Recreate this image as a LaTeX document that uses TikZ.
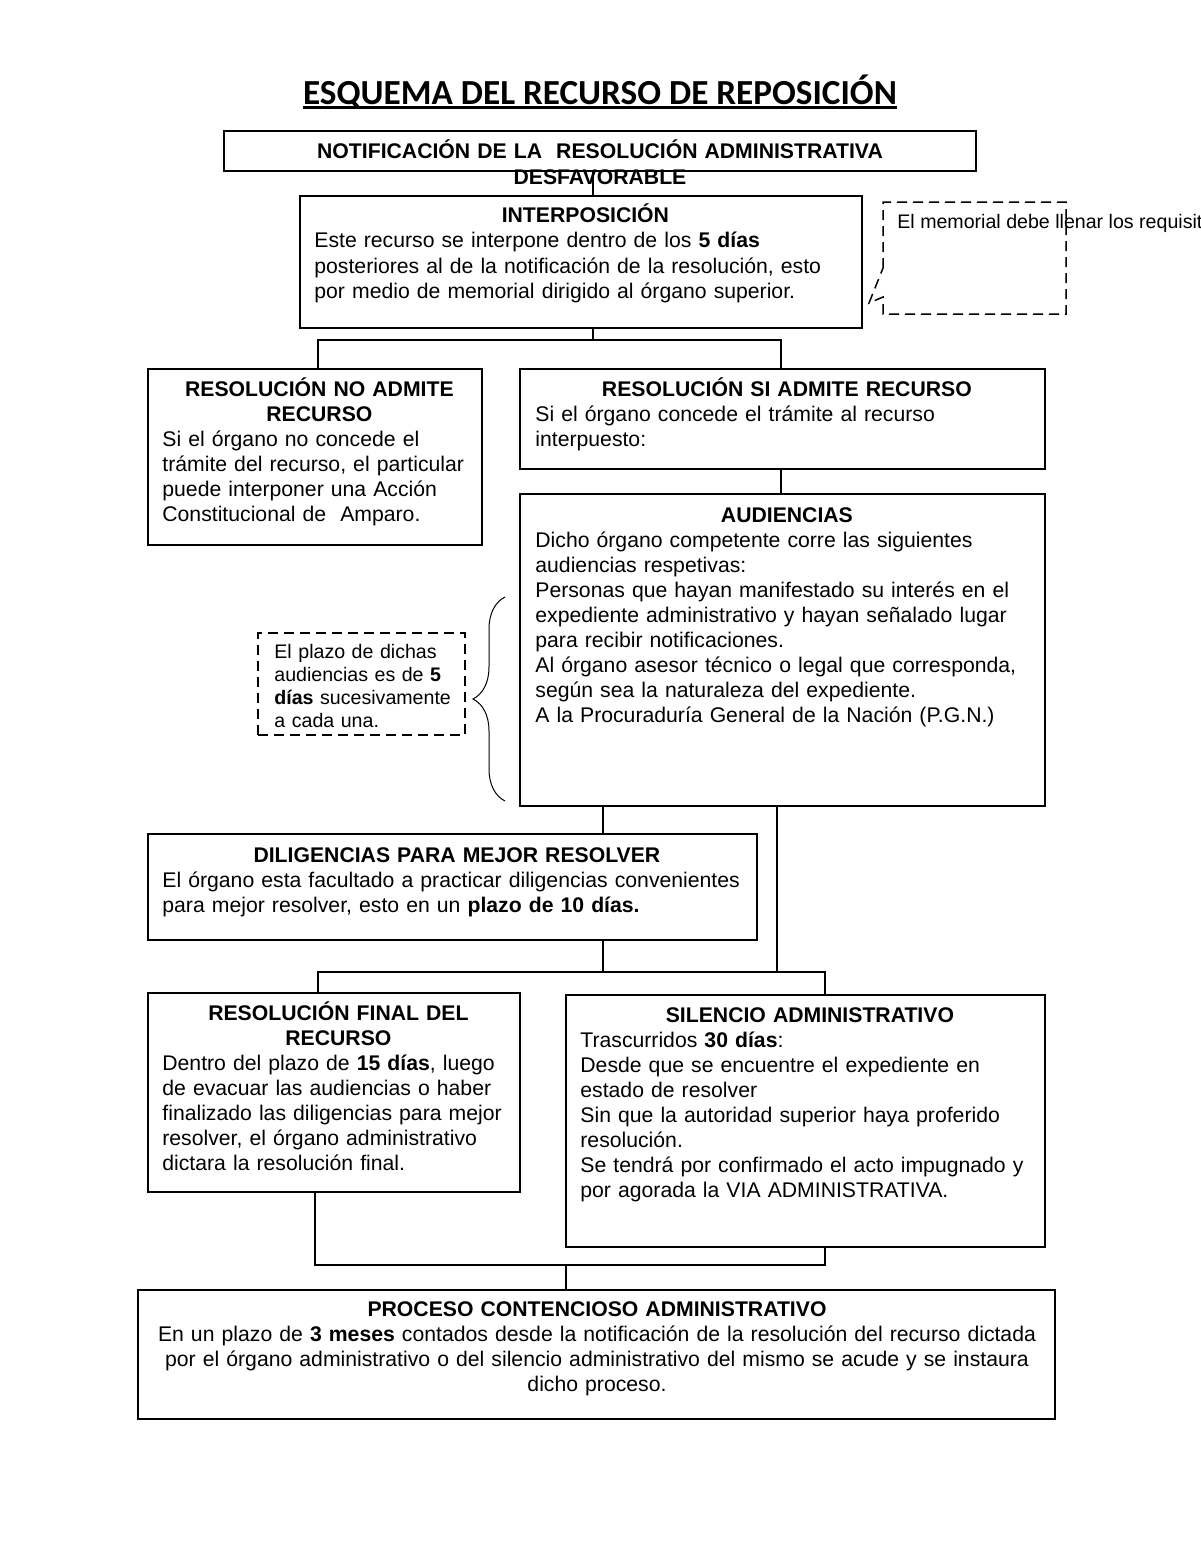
\documentclass[tikz,border=0pt]{standalone}
\usepackage{fontspec}
\setmainfont{Liberation Sans}
\newfontfamily\calibri{Carlito}
\usetikzlibrary{fit,decorations.pathreplacing}
\newcommand{\titulo}[1]{{\centering\bfseries #1\par}}

\tikzset{
  caja/.style={draw, line width=0.9pt, inner sep=0pt},
  nota/.style={draw, line width=0.75pt, dash pattern=on 5pt off 3pt, inner sep=0pt},
  texto/.style={inner sep=0pt, anchor=base west, align=left, font=\fontsize{10.6}{12.5}\selectfont},
  linea/.style={line width=0.9pt},
  llave/.style={line width=0.5pt, decorate, decoration={brace, amplitude=16pt}}
}

\begin{document}
\begin{tikzpicture}[x=0.5pt, y=-0.5pt]
	\path[fill=white, use as bounding box] (0,0) rectangle (1200,1553);

	% titulo
	\node[font=\calibri\bfseries\fontsize{17.6}{20}\selectfont, inner sep=0pt, anchor=base] (titulo) at (600,104) {ESQUEMA DEL RECURSO DE REPOSICIÓN};
	\draw[line width=1.2pt] ([yshift=-1.8pt]titulo.base west) -- ([yshift=-1.8pt]titulo.base east);

	% cajas
	\node[caja, fit={(224,131) (976,171)}] (notif) {};
	\node[caja, fit={(300,196) (862,328)}] (interp) {};
	\node[caja, fit={(148,369) (482,545)}] (noadmite) {};
	\node[caja, fit={(520,369) (1045,469)}] (siadmite) {};
	\node[caja, fit={(520,494) (1045,806)}] (audiencias) {};
	\node[caja, fit={(148,834) (757,940)}] (diligencias) {};
	\node[caja, fit={(148,993) (520,1192)}] (final) {};
	\node[caja, fit={(566,995) (1045,1247)}] (silencio) {};
	\node[caja, fit={(138,1290) (1055,1419)}] (proceso) {};
	\node[nota, fit={(258,633) (465,735)}] (plazo) {};
	\draw[nota] (883,268) |- (1066,202) |- (883,314) -- (883,297) -- (869,303) -- cycle;

	% textos
	\node[texto, anchor=base, align=center, text width=380pt, font=\fontsize{10.6}{13}\selectfont\bfseries] (t-notif) at (600,158)
		{NOTIFICACIÓN DE LA\ \ RESOLUCIÓN ADMINISTRATIVA\\DESFAVORABLE};
	\node[texto, text width=271pt, font=\fontsize{10.6}{12.8}\selectfont] (t-interp) at (314,222)
		{\titulo{INTERPOSICIÓN}Este recurso se interpone dentro de los \textbf{5 días}\\
		posteriores al de la notificación de la resolución, esto\\
		por medio de memorial dirigido al órgano superior.};
	\node[texto, text width=157pt] (t-noadmite) at (162,396)
		{\titulo{RESOLUCIÓN NO ADMITE\\RECURSO}Si el órgano no concede el\\
		trámite del recurso, el particular\\
		puede interponer una Acción\\
		Constitucional de\ \ Amparo.};
	\node[texto, text width=251.5pt] (t-siadmite) at (535,396)
		{\titulo{RESOLUCIÓN SI ADMITE RECURSO}Si el órgano concede el trámite al recurso\\
		interpuesto:};
	\node[texto, text width=251.5pt] (t-audiencias) at (535,522)
		{\titulo{AUDIENCIAS}Dicho órgano competente corre las siguientes\\
		audiencias respetivas:\\
		Personas que hayan manifestado su interés en el\\
		expediente administrativo y hayan señalado lugar\\
		para recibir notificaciones.\\
		Al órgano asesor técnico o legal que corresponda,\\
		según sea la naturaleza del expediente.\\
		A la Procuraduría General de la Nación (P.G.N.)};
	\node[texto, text width=94pt, font=\fontsize{9.8}{11.5}\selectfont] (t-plazo) at (274,658)
		{El plazo de dichas\\
		audiencias es de \textbf{5}\\
		\textbf{días} sucesivamente\\
		a cada una.};
	\node[texto, font=\fontsize{9.8}{11.5}\selectfont] (t-memo) at (897,228) {El memorial debe llenar los requisit};
	\node[texto, text width=294.5pt] (t-diligencias) at (162,862)
		{\titulo{DILIGENCIAS PARA MEJOR RESOLVER}El órgano esta facultado a practicar diligencias convenientes\\
		para mejor resolver, esto en un \textbf{plazo de 10 días.}};
	\node[texto, text width=176pt] (t-final) at (162,1020)
		{\titulo{RESOLUCIÓN FINAL DEL\\RECURSO}Dentro del plazo de \textbf{15 días}, luego\\
		de evacuar las audiencias o haber\\
		finalizado las diligencias para mejor\\
		resolver, el órgano administrativo\\
		dictara la resolución final.};
	\node[texto, text width=229.5pt] (t-silencio) at (580,1022)
		{\titulo{SILENCIO ADMINISTRATIVO}Trascurridos \textbf{30 días}:\\
		Desde que se encuentre el expediente en\\
		estado de resolver\\
		Sin que la autoridad superior haya proferido\\
		resolución.\\
		Se tendrá por confirmado el acto impugnado y\\
		por agorada la VIA ADMINISTRATIVA.};
	\node[texto, anchor=base, align=center, text width=450pt] (t-proceso) at (597,1316)
		{\textbf{PROCESO CONTENCIOSO ADMINISTRATIVO}\\
		En un plazo de \textbf{3 meses} contados desde la notificación de la resolución del recurso dictada\\
		por el órgano administrativo o del silencio administrativo del mismo se acude y se instaura\\
		dicho proceso.};

	% llave
	\draw[llave] (505,801) -- (505,597);

	% conectores
	\coordinate (j1) at (593,340);
	\coordinate (j2) at (603,972);
	\coordinate (j3) at (566,1265);
	\draw[linea] (notif.south -| j1) -- (interp.north -| j1);
	\draw[linea] (interp.south -| j1) -- (j1);
	\draw[linea] (noadmite.north -| 318,0) |- (j1) -| (siadmite.north -| 781,0);
	\draw[linea] (siadmite.south -| 781,0) -- (audiencias.north -| 781,0);
	\draw[linea] (audiencias.south -| j2) -- (diligencias.north -| j2);
	\draw[linea] (audiencias.south -| 777,0) -- (777,972);
	\draw[linea] (diligencias.south -| j2) -- (j2);
	\draw[linea] (final.north -| 318,0) |- (j2) -| (silencio.north -| 825,0);
	\draw[linea] (final.south -| 315,0) |- (j3) -| (silencio.south -| 825,0);
	\draw[linea] (j3) -- (proceso.north -| j3);
\end{tikzpicture}
\end{document}
